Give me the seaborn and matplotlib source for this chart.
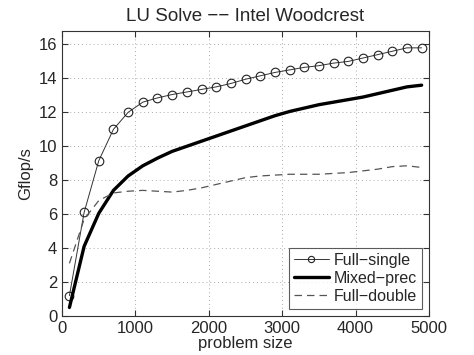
import matplotlib
matplotlib.use("Agg")
import matplotlib.pyplot as plt
import pandas as pd
import seaborn as sns

sizes = [100, 300, 500, 700, 900, 1100, 1300, 1500, 1700, 1900, 2100, 2300, 2500,
         2700, 2900, 3100, 3300, 3500, 3700, 3900, 4100, 4300, 4500, 4700, 4900]
full_single = [1.2, 6.1, 9.15, 11.0, 12.0, 12.6, 12.85, 13.05, 13.2, 13.35, 13.5, 13.7, 13.95,
               14.15, 14.35, 14.5, 14.65, 14.75, 14.9, 15.0, 15.2, 15.4, 15.6, 15.8, 15.8]
mixed_prec = [0.5, 4.1, 6.05, 7.4, 8.25, 8.85, 9.3, 9.7, 10.0, 10.3, 10.6, 10.9, 11.2,
              11.5, 11.8, 12.05, 12.25, 12.45, 12.6, 12.75, 12.9, 13.1, 13.3, 13.5, 13.6]
full_double = [3.1, 5.7, 6.8, 7.25, 7.35, 7.4, 7.35, 7.3, 7.4, 7.55, 7.75, 7.95, 8.15,
               8.25, 8.3, 8.35, 8.35, 8.35, 8.4, 8.45, 8.55, 8.65, 8.8, 8.85, 8.75]

sns.set_style("ticks")
plt.rcParams['font.family'] = ['Liberation Sans', 'DejaVu Sans']

df = pd.DataFrame({"n": sizes, "single": full_single, "mixed": mixed_prec, "double": full_double})

fig = plt.figure(figsize=(4.74, 3.55), dpi=100)
ax = fig.add_axes([0.131, 0.110, 0.774, 0.803])

sns.lineplot(data=df, x="n", y="single", ax=ax, color="#333333", lw=0.7,
             marker="o", markersize=6.2, markerfacecolor="none", markeredgecolor="#222222",
             markeredgewidth=0.8, label="Full\u2212single")
sns.lineplot(data=df, x="n", y="mixed", ax=ax, color="black", lw=2.4, label="Mixed\u2212prec")
sns.lineplot(data=df, x="n", y="double", ax=ax, color="#555555", lw=0.9,
             dashes=False, linestyle=(0, (6, 4)), label="Full\u2212double")

ax.set_xlim(0, 5000)
ax.set_ylim(0, 16.8)
ax.set_xticks(range(0, 5001, 1000))
ax.set_yticks(range(0, 17, 2))
ax.grid(True, linestyle=(0, (1, 3)), color="#aaaaaa", lw=0.7)
for s in ax.spines.values():
    s.set_visible(True)
    s.set_color("#333333")
    s.set_linewidth(0.8)
ax.tick_params(direction="in", top=True, right=True, labelsize=12, length=4, color="#333333")

ax.set_xlabel("problem size", fontsize=12, labelpad=0)
ax.set_ylabel("Gflop/s", fontsize=12, labelpad=4)
ax.set_title("LU Solve \u2212\u2212 Intel Woodcrest", fontsize=13.5, pad=7)

leg = ax.legend(loc="lower right", fontsize=11.5, frameon=True, fancybox=False,
                edgecolor="#333333", handlelength=2.2, borderaxespad=0.45,
                labelspacing=0.2, handletextpad=0.3, borderpad=0.3)
leg.get_frame().set_linewidth(0.8)
for h in leg.legend_handles:
    h.set_markersize(4.5)

fig.savefig("out.png", dpi=100)
